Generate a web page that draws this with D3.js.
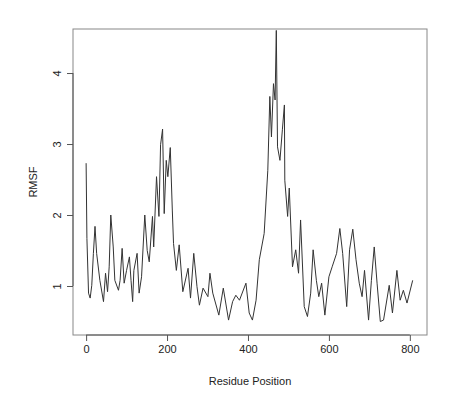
<!DOCTYPE html>
<html>
<head>
<meta charset="utf-8">
<script src="https://cdn.jsdelivr.net/npm/d3@7"></script>
<style>body{margin:0;background:#fff}</style>
</head>
<body>
<svg id="grafica"></svg>
<script>
// posiciones de residuo y valores RMSF
const residue = [0,2,6,10,14,18,22,26,34,43,48,53,57,61,67,71,80,84,89,94,100,107,111,115,118,126,131,137,145,151,156,164,167,174,180,184,189,193,198,202,208,213,216,223,230,239,252,258,266,274,280,289,301,306,313,328,339,352,362,370,379,395,403,411,420,428,440,449,454,458,463,467,470,473,479,485,490,491,498,502,510,518,525,530,539,547,555,561,569,575,582,590,600,608,619,627,634,644,651,659,667,675,682,688,698,705,712,719,727,735,749,757,768,776,784,793,807];
const rmsf = [2.73,1.67,0.9,0.83,1.01,1.46,1.84,1.46,1.08,0.78,1.18,0.92,1.27,2.0,1.55,1.08,0.94,1.08,1.53,1.04,1.22,1.41,1.08,0.78,1.22,1.46,0.9,1.13,2.0,1.5,1.34,1.98,1.55,2.54,1.98,2.99,3.21,2.02,2.77,2.54,2.95,2.07,1.6,1.22,1.58,0.92,1.25,0.83,1.46,0.99,0.73,0.97,0.85,1.18,0.9,0.59,0.97,0.52,0.78,0.87,0.8,1.04,0.62,0.52,0.8,1.37,1.74,2.63,3.67,3.1,3.85,3.62,4.6,2.96,2.77,3.2,3.55,2.49,1.98,2.38,1.27,1.51,1.18,1.93,0.71,0.57,0.9,1.51,1.08,0.85,1.04,0.59,1.13,1.27,1.46,1.81,1.46,0.71,1.51,1.8,1.37,1.04,0.85,1.22,0.52,1.08,1.55,1.04,0.5,0.52,1.01,0.62,1.22,0.8,0.94,0.76,1.08];
const x_ticks = [0,200,400,600,800];
const y_ticks = [1,2,3,4];

const svg_w = 469, svg_h = 400;
const box = {l:73, r:427, t:29, b:335};
const fuente = "Liberation Sans, Arial, sans-serif";

let svg = d3.select("#grafica").attr("width",svg_w).attr("height",svg_h);

let x_scale = d3.scaleLinear().domain([-32.4,842.4]).range([box.l,box.r]);
let y_scale = d3.scaleLinear().domain([0.31,4.62]).range([box.b,box.t]);

// la línea de datos
let linea = d3.line().x((d,i)=>x_scale(residue[i])).y(d=>y_scale(d));
svg.append("path")
  .attr("d",linea(rmsf))
  .attr("fill","none")
  .attr("stroke","#333")
  .attr("stroke-width",1);

// marco
svg.append("rect")
  .attr("x",box.l).attr("y",box.t)
  .attr("width",box.r-box.l).attr("height",box.b-box.t)
  .attr("fill","none").attr("stroke","#888").attr("stroke-width",1);

// ejes al estilo de R: la línea va del primer al último tick
let ax = svg.append("g").attr("transform",`translate(0,${box.b})`)
  .call(d3.axisBottom(x_scale).tickValues(x_ticks).tickSize(6).tickPadding(4).tickSizeOuter(0));
let ay = svg.append("g").attr("transform",`translate(${box.l},0)`)
  .call(d3.axisLeft(y_scale).tickValues(y_ticks).tickFormat(d3.format("d")).tickSize(6).tickSizeOuter(0));
[ax,ay].forEach(g=>{
  g.select(".domain").remove();
  g.selectAll("line").attr("stroke","#555");
  g.selectAll("text").attr("font-family",fuente).attr("font-size",11).attr("fill","#222");
});
svg.append("line").attr("x1",x_scale(0)).attr("x2",x_scale(800))
  .attr("y1",box.b).attr("y2",box.b).attr("stroke","#555");
svg.append("line").attr("x1",box.l).attr("x2",box.l)
  .attr("y1",y_scale(1)).attr("y2",y_scale(4)).attr("stroke","#555");
// etiquetas del eje y giradas como en R
ay.selectAll("text")
  .attr("text-anchor","middle")
  .attr("transform","rotate(-90)").attr("x",0).attr("y",-12).attr("dy","0");

// títulos
svg.append("text").attr("x",(box.l+box.r)/2).attr("y",385)
  .attr("text-anchor","middle").attr("font-family",fuente).attr("font-size",11).attr("fill","#222")
  .text("Residue Position");
svg.append("text").attr("transform",`translate(37,${(box.t+box.b)/2}) rotate(-90)`)
  .attr("text-anchor","middle").attr("font-family",fuente).attr("font-size",11).attr("fill","#222")
  .text("RMSF");
</script>
</body>
</html>
